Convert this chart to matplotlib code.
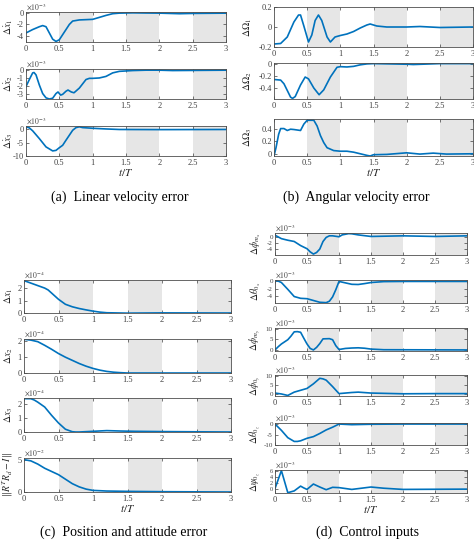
import matplotlib
matplotlib.use("Agg")
import matplotlib.pyplot as plt

plt.rcParams["font.family"] = ["Liberation Serif", "DejaVu Serif"]
plt.rcParams["mathtext.fontset"] = "stix"

W, H = 474, 560
BLUE = "#0072BD"
SHADE = "#e6e6e6"

# (a) linear velocity error, values in 1e-3
a1_t = [0, 0.1, 0.2, 0.25, 0.3, 0.35, 0.4, 0.45, 0.5, 0.55, 0.6, 0.65, 0.7, 0.8, 0.9, 1.0,
        1.1, 1.2, 1.3, 1.4, 1.6, 1.8, 2.0, 2.3, 2.5, 3.0]
a1 = [-3.5, -2.9, -2.4, -2.2, -2.4, -3.5, -4.6, -5.0, -4.7, -3.8, -2.9, -2.0, -1.4, -1.2, -1.15, -1.1,
      -0.75, -0.4, -0.1, 0, 0.05, 0.02, 0, -0.1, -0.05, 0]
a2_t = [0, 0.05, 0.1, 0.12, 0.15, 0.2, 0.25, 0.3, 0.35, 0.4, 0.45, 0.48, 0.52, 0.55, 0.6, 0.63,
        0.68, 0.72, 0.8, 0.9, 0.95, 1.0, 1.1, 1.2, 1.3, 1.4, 1.5, 1.6, 1.8, 2.0, 2.2, 3.0]
a2 = [-2.1, -1.2, -0.35, -0.3, -0.6, -1.9, -3.0, -3.55, -3.7, -3.6, -3.0, -2.8, -3.2, -3.1, -2.7, -2.55,
      -2.8, -2.9, -2.3, -1.2, -1.05, -1.05, -1.0, -0.8, -0.35, -0.15, -0.1, -0.05, 0, 0, -0.05, 0]
a3_t = [0, 0.05, 0.1, 0.2, 0.3, 0.4, 0.45, 0.5, 0.55, 0.6, 0.65, 0.7, 0.75, 0.8, 0.85, 1.0,
        1.2, 1.4, 2.0, 3.0]
a3 = [0.9, 0.5, -0.6, -3.5, -6.6, -8.1, -7.9, -6.9, -6.0, -4.1, -2.25, -0.4, 0.6, 0.9, 0.6, 0.35,
      0.1, -0.1, -0.15, -0.1]

# (b) angular velocity error
b1_t = [0, 0.1, 0.2, 0.3, 0.37, 0.4, 0.45, 0.52, 0.57, 0.62, 0.67, 0.72, 0.8, 0.85, 0.92, 1.0,
        1.1, 1.2, 1.3, 1.4, 1.45, 1.55, 1.7, 2.0, 2.2, 2.5, 3.0]
b1 = [-0.17, -0.165, -0.1, 0.05, 0.12, 0.12, 0.01, -0.15, -0.08, 0.065, 0.12, 0.065, -0.1, -0.15, -0.1, -0.085,
      -0.07, -0.045, -0.01, 0.02, 0.03, 0.01, 0, 0, 0.005, -0.005, 0]
b2_t = [0, 0.1, 0.15, 0.2, 0.25, 0.28, 0.32, 0.4, 0.47, 0.52, 0.6, 0.68, 0.75, 0.85, 0.95, 1.0,
        1.1, 1.2, 1.3, 1.4, 1.5, 2.0, 2.1, 2.5, 3.0]
b2 = [-0.26, -0.27, -0.33, -0.44, -0.55, -0.57, -0.54, -0.35, -0.22, -0.25, -0.4, -0.51, -0.43, -0.22, -0.06, -0.05,
      -0.055, -0.045, -0.02, -0.005, 0, -0.01, -0.015, 0, 0]
b3_t = [0, 0.03, 0.07, 0.1, 0.15, 0.2, 0.25, 0.3, 0.4, 0.45, 0.5, 0.6, 0.65, 0.7, 0.75, 0.8,
        0.9, 1.0, 1.1, 1.2, 1.3, 1.4, 1.45, 1.5, 1.7, 2.0, 2.2, 2.4, 2.6, 3.0]
b3 = [-0.03, 0.1, 0.31, 0.4, 0.4, 0.37, 0.39, 0.385, 0.37, 0.47, 0.53, 0.53, 0.44, 0.29, 0.18, 0.1,
      0.055, 0.045, 0.045, 0.03, 0.005, -0.02, -0.03, -0.01, -0.005, 0.02, 0, 0.015, 0, 0.005]

# (c) position (1e-4) and attitude (1e-2) error
c1_t = [0, 0.1, 0.2, 0.3, 0.35, 0.4, 0.5, 0.6, 0.7, 0.8, 0.9, 1.0, 1.1, 1.2, 1.4, 1.5, 2.0, 3.0]
c1 = [2.6, 2.4, 2.2, 2.0, 1.85, 1.6, 1.1, 0.7, 0.5, 0.36, 0.25, 0.15, 0.07, 0.02, 0, -0.01, 0.01, 0]
c2_t = [0, 0.1, 0.2, 0.3, 0.4, 0.5, 0.6, 0.7, 0.8, 0.9, 1.0, 1.1, 1.2, 1.3, 1.4, 1.5, 3.0]
c2 = [2.13, 2.08, 1.98, 1.75, 1.5, 1.23, 1.0, 0.8, 0.6, 0.43, 0.29, 0.18, 0.1, 0.05, 0.02, 0, 0]
c3_t = [0, 0.1, 0.15, 0.2, 0.3, 0.4, 0.5, 0.6, 0.7, 0.75, 0.8, 1.0, 1.2, 1.4, 1.6, 2.0, 3.0]
c3 = [2.4, 2.4, 2.3, 2.15, 1.8, 1.2, 0.65, 0.2, 0.02, 0, 0, 0.05, 0.1, 0.07, 0.05, 0.03, 0]
c4_t = [0, 0.1, 0.2, 0.3, 0.4, 0.5, 0.6, 0.7, 0.8, 0.9, 1.0, 1.2, 1.5, 2.0, 3.0]
c4 = [5.05, 4.85, 4.35, 3.7, 3.2, 2.7, 2.0, 1.3, 0.8, 0.45, 0.25, 0.15, 0.1, 0.05, 0]

# (d) control inputs, values in 1e-3
d1_t = [0, 0.1, 0.2, 0.3, 0.4, 0.5, 0.55, 0.6, 0.65, 0.7, 0.75, 0.8, 0.85, 0.9, 0.95, 1.0,
        1.05, 1.15, 1.2, 1.3, 1.5, 2.0, 2.5, 3.0]
d1 = [0.5, -0.6, -1.1, -1.5, -2.8, -3.8, -4.8, -5.5, -5.0, -3.9, -1.5, -0.2, 0.3, 0.3, 0.15, 0.0,
      0.6, 1.0, 0.95, 0.6, 0.1, 0.3, 0.1, 0.3]
d2_t = [0, 0.05, 0.1, 0.2, 0.3, 0.4, 0.5, 0.6, 0.7, 0.8, 0.85, 0.9, 0.95, 1.0, 1.1, 1.2,
        1.3, 1.4, 1.5, 1.7, 2.0, 3.0]
d2 = [0.2, 0.1, -0.3, -2.2, -4.2, -4.7, -4.8, -5.3, -5.8, -5.9, -5.5, -4.3, -2.3, 0, -0.4, -0.8,
      -0.85, -0.6, -0.3, -0.05, 0, 0]
d3_t = [0, 0.05, 0.1, 0.2, 0.25, 0.3, 0.35, 0.4, 0.45, 0.5, 0.55, 0.6, 0.65, 0.7, 0.75, 0.85,
        0.9, 0.95, 1.0, 1.1, 1.2, 1.3, 1.4, 1.5, 1.7, 3.0]
d3 = [0, 1.5, 2.8, 4.8, 6.5, 8.5, 8.6, 8.3, 5.5, 2.8, 0.7, 0, 1.2, 3.0, 5.2, 5.3,
      4.8, 2.0, 0.2, 0.7, 0.9, 1.0, 0.8, 0.4, 0.1, 0]
d4_t = [0, 0.1, 0.2, 0.3, 0.4, 0.5, 0.6, 0.7, 0.75, 0.8, 0.9, 1.0, 1.2, 1.3, 1.5, 2.0, 2.5, 3.0]
d4 = [0.5, 0, -0.8, 1.0, 2.0, 3.0, 5.5, 8.5, 8.2, 7.5, 4.0, 0.2, 0.8, 1.0, 0.5, 0.1, 0.2, 0.2]
d5_t = [0, 0.1, 0.2, 0.3, 0.35, 0.4, 0.5, 0.6, 0.7, 0.8, 0.9, 1.0, 1.2, 1.5, 2.0, 3.0]
d5 = [0, -3.0, -6.5, -8.3, -8.3, -8.0, -6.8, -6.0, -4.5, -2.8, -1.5, 0, -0.3, -0.1, 0, 0]
d6_t = [0, 0.1, 0.2, 0.3, 0.4, 0.45, 0.5, 0.6, 0.7, 0.8, 0.9, 1.0, 1.2, 1.5, 1.7, 2.0, 3.0]
d6 = [0, 6.0, -1.4, -0.8, 0.8, 0.2, -0.3, 1.5, 0.5, -0.4, 0.4, 0.3, -0.3, 0.5, 0.1, -0.3, -0.2]

xticks = [0, 0.5, 1, 1.5, 2, 2.5, 3]
xticklabels = ["0", "0.5", "1", "1.5", "2", "2.5", "3"]

fig = plt.figure(figsize=(W / 100, H / 100), dpi=100)


def panel(x0, x1, y0, y1, t, y, ylim, yticks, ylabel, lab_x, scale=None, xlabel=False, ysize=6):
    # pixel box -> figure fraction
    ax = fig.add_axes([x0 / W, 1 - y1 / H, (x1 - x0) / W, (y1 - y0) / H])
    for s in (0.5, 1.5, 2.5):
        ax.axvspan(s, s + 0.5, color=SHADE, lw=0, zorder=0)
    ax.plot(t, y, color=BLUE, lw=1.2, zorder=2)
    ax.set_xlim(0, 3)
    ax.set_ylim(*ylim)
    ax.set_xticks(xticks)
    ax.set_xticklabels(xticklabels)
    ax.set_yticks(yticks)
    ax.set_yticklabels([("%g" % v) for v in yticks])
    ax.tick_params(direction="in", length=2, width=0.5, labelsize=6, colors="0.25",
                   top=True, right=True, pad=2)
    ax.tick_params(axis="y", labelsize=ysize, pad=1.5)
    for sp in ax.spines.values():
        sp.set_linewidth(0.6)
        sp.set_color("0.3")
        sp.set_zorder(3)
    ax.set_ylabel(ylabel, fontsize=7, color="0.15")
    # right edge of the rotated label at a fixed pixel column
    ax.yaxis.set_label_coords((lab_x - x0) / (x1 - x0), 0.5)
    if scale:
        ax.text(0.0, 1.0, r"$\times10^{%d}$" % scale, transform=ax.transAxes,
                ha="left", va="bottom", fontsize=5.5, color="0.25")
    if xlabel:
        ax.set_xlabel(r"$t/T$", fontsize=8, labelpad=0, color="0.15")
    return ax


# (a)
ax_l, ax_r = 26, 226
panel(ax_l, ax_r, 12, 42, a1_t, a1, (-5.1, 0.2), [-4, -2, 0], r"$\Delta\dot{x}_1$", 15, -3)
panel(ax_l, ax_r, 69, 99, a2_t, a2, (-3.7, 0.15), [-3, -2, -1, 0], r"$\Delta\dot{x}_2$", 15, -3)
panel(ax_l, ax_r, 126, 156, a3_t, a3, (-10, 1.2), [-10, -5, 0], r"$\Delta\dot{x}_3$", 15, -3, xlabel=True)
fig.text(120 / W, 1 - 197 / H, "(a)  Linear velocity error", ha="center", va="center", fontsize=10)

# (b)
bx_l, bx_r = 274, 473
panel(bx_l, bx_r, 7, 47, b1_t, b1, (-0.2, 0.2), [-0.2, 0, 0.2], r"$\Delta\Omega_1$", 254)
panel(bx_l, bx_r, 63, 99, b2_t, b2, (-0.58, 0.01), [-0.4, -0.2, 0], r"$\Delta\Omega_2$", 254)
panel(bx_l, bx_r, 119, 156, b3_t, b3, (-0.03, 0.55), [0, 0.2, 0.4], r"$\Delta\Omega_3$", 254, xlabel=True)
fig.text(356 / W, 1 - 197 / H, "(b)  Angular velocity error", ha="center", va="center", fontsize=10)

# (c)
cx_l, cx_r = 24, 231
panel(cx_l, cx_r, 280, 313, c1_t, c1, (0, 2.65), [0, 1, 2], r"$\Delta x_1$", 15, -4)
panel(cx_l, cx_r, 339, 373, c2_t, c2, (0, 2.15), [0, 1, 2], r"$\Delta x_2$", 15, -4)
panel(cx_l, cx_r, 398, 432, c3_t, c3, (0, 2.45), [0, 1, 2], r"$\Delta x_3$", 15, -4)
panel(cx_l, cx_r, 458, 492, c4_t, c4, (0, 5.3), [0, 5], r"$\|R^T R_d - I\|$", 15, -2, xlabel=True)
fig.text(124 / W, 1 - 532 / H, "(c)  Position and attitude error", ha="center", va="center", fontsize=10)

# (d)
dx_l, dx_r = 275, 467
panel(dx_l, dx_r, 233, 255, d1_t, d1, (-5.8, 1.2), [-4, -2, 0], r"$\Delta\phi_{m_x}$", 263, -3, ysize=5)
panel(dx_l, dx_r, 280, 303, d2_t, d2, (-6.0, 0.4), [-4, -2, 0], r"$\Delta\theta_{0_x}$", 263, -3, ysize=5)
panel(dx_l, dx_r, 328, 351, d3_t, d3, (-0.5, 10.3), [0, 5, 10], r"$\Delta\phi_{m_y}$", 263, -3, ysize=5)
panel(dx_l, dx_r, 375, 396, d4_t, d4, (-1.1, 10.3), [0, 5, 10], r"$\Delta\phi_{0_y}$", 263, -3, ysize=5)
panel(dx_l, dx_r, 423, 445, d5_t, d5, (-10, 0.5), [-10, -5, 0], r"$\Delta\theta_{0_z}$", 263, -3, ysize=5)
panel(dx_l, dx_r, 470, 493, d6_t, d6, (-1.5, 6.2), [0, 2, 4, 6], r"$\Delta\psi_{0_z}$", 263, -3,
      xlabel=True, ysize=4.5)
fig.text(368 / W, 1 - 532 / H, "(d)  Control inputs", ha="center", va="center", fontsize=10)

fig.savefig("out.png", dpi=100)
